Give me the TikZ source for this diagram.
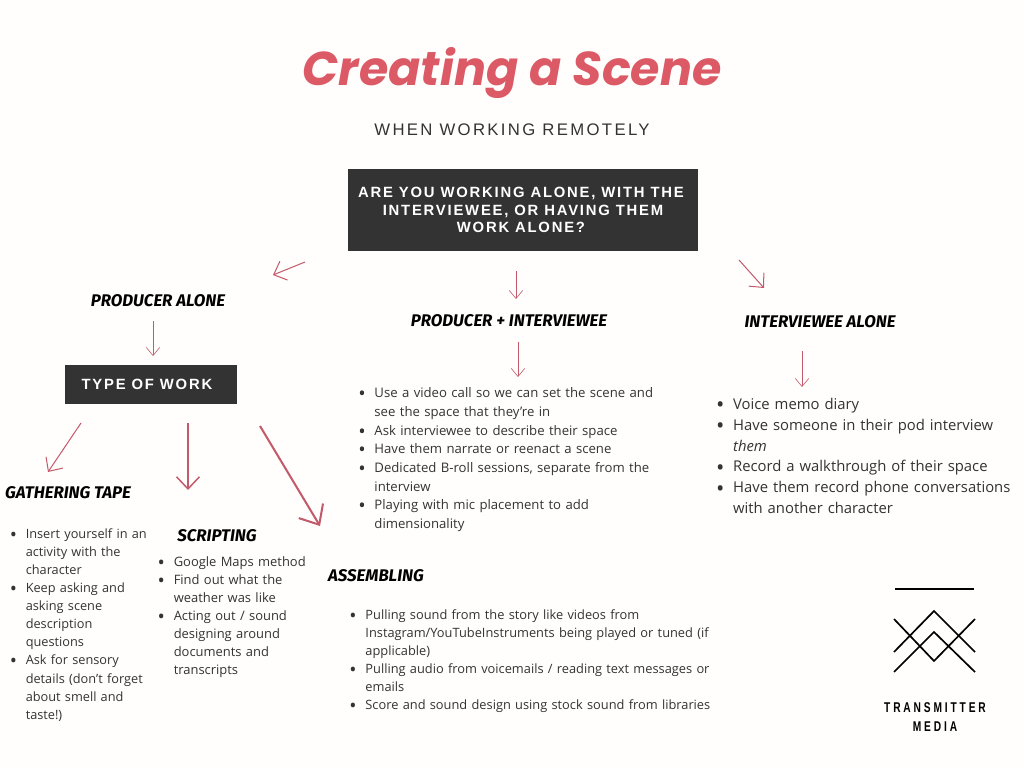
\documentclass[tikz,border=0pt]{standalone}
\usepackage{fontspec}
\setmainfont{Open Sans}
\newfontfamily\titlefont{Poppins}
\newfontfamily\headfont{Fira Sans}
\newfontfamily\boxfont[LetterSpace=12]{Liberation Sans}
\newfontfamily\subfont[LetterSpace=14]{Liberation Sans}
\newfontfamily\logofont[LetterSpace=28]{Liberation Sans}
\usetikzlibrary{arrows.meta}
\usetikzlibrary{positioning}
\definecolor{pagecolor}{HTML}{FFFEFC}
\definecolor{titlered}{HTML}{DC5A66}
\definecolor{arrowred}{HTML}{C25A6C}
\definecolor{boxgray}{HTML}{333333}
\newenvironment{scenelist}[1]{\begin{list}{\raisebox{-0.42ex}{\scalebox{1.5}{\textbullet}}}{\setlength{\leftmargin}{#1}\setlength{\labelwidth}{8pt}\setlength{\labelsep}{6.5pt}\setlength{\itemsep}{0pt}\setlength{\parsep}{0pt}\setlength{\topsep}{0pt}\setlength{\partopsep}{0pt}\setlength{\parskip}{0pt}}\raggedright}{\end{list}}
\tikzset{
  headlabel/.style={font=\headfont\bfseries\itshape\fontsize{12.5}{14}\selectfont,text=black,inner sep=0pt},
  darkbox/.style={fill=boxgray,draw=none,text=white,inner sep=0pt,align=center,font=\boxfont\bfseries\fontsize{11}{13}\selectfont},
  scenetext/.style={anchor=north west,inner sep=0pt,text=boxgray,font=\fontsize{9.6}{13.4}\selectfont},
  thinarrow/.style={draw=arrowred,line width=0.45pt,-{Straight Barb[length=6pt,width=10pt,line width=0.45pt]}},
  midarrow/.style={draw=arrowred,line width=0.75pt,-{Straight Barb[length=8pt,width=15pt,line width=0.75pt]}},
  widearrow/.style={draw=arrowred,line width=1.1pt,-{Straight Barb[length=9pt,width=17pt,line width=1.1pt]}},
  bigarrow/.style={draw=arrowred,line width=1.5pt,-{Straight Barb[length=12pt,width=21pt,line width=1.5pt]}},
  logoline/.style={draw=black,line width=1.25pt},
  logotext/.style={font=\logofont\bfseries\fontsize{10.5}{14}\selectfont,xscale=0.72,inner sep=0pt,text=black},
}
\begin{document}
\begin{tikzpicture}[x=0.026042cm,y=-0.026042cm]
\fill[pagecolor] (0,0) rectangle (1024,768);
\useasboundingbox (0,0) rectangle (1024,768);

\node[font=\titlefont\bfseries\itshape\fontsize{35.2}{40}\selectfont,text=titlered,inner sep=0pt] (title) at (512, 73) {Creating a Scene};
\node[font=\subfont\fontsize{12.4}{14}\selectfont,text=boxgray,inner sep=0pt] (subtitle) at (512, 130) {WHEN WORKING REMOTELY};

\node[darkbox,minimum width=350*0.74pt,minimum height=82*0.74pt] (question) at (523, 210) {ARE YOU WORKING ALONE, WITH THE\hspace*{3pt}\\INTERVIEWEE, OR HAVING THEM\hspace*{3pt}\\WORK ALONE?\hspace*{3pt}};
\node[darkbox,minimum width=172*0.74pt,minimum height=39*0.74pt] (typework) at (151, 384.5) {TYPE OF WORK\hspace*{6pt}};

\node[headlabel] (alone) at (158, 301) {PRODUCER ALONE};
\node[headlabel] (both) at (509, 321) {PRODUCER + INTERVIEWEE};
\node[headlabel] (guest) at (820, 322) {INTERVIEWEE ALONE};
\node[headlabel] (tape) at (68, 493) {GATHERING TAPE};
\node[headlabel] (script) at (217, 536) {SCRIPTING};
\node[headlabel] (assemble) at (376, 576) {ASSEMBLING};

\coordinate (qa) at (305,262);
\coordinate (qb) at (273,275);
\coordinate (qc) at (516,271);
\coordinate (qd) at (516,299);
\coordinate (qe) at (739,260);
\coordinate (qf) at (764,288);
\coordinate (pa) at (153,321);
\coordinate (pb) at (153,356);
\coordinate (pc) at (518,342);
\coordinate (pd) at (518,377);
\coordinate (ga) at (802,351);
\coordinate (gb) at (802,387);
\coordinate (ta) at (81,423);
\coordinate (tb) at (48,472);
\coordinate (tc) at (188,423);
\coordinate (td) at (188,490);
\coordinate (te) at (260,426);
\coordinate (tf) at (320,526);
\draw[midarrow] (qa) -- (qb);
\draw[thinarrow] (qc) -- (qd);
\draw[midarrow] (qe) -- (qf);
\draw[thinarrow] (pa) -- (pb);
\draw[thinarrow] (pc) -- (pd);
\draw[thinarrow] (ga) -- (gb);
\draw[midarrow] (ta) -- (tb);
\draw[widearrow] (tc) -- (td);
\draw[bigarrow] (te) -- (tf);

\node[scenetext,text width=160*0.74pt,font=\fontsize{9.45}{13.4}\selectfont] (tapelist) at (12, 520) {\begin{scenelist}{10pt}
\item Insert yourself in an\\activity with the\\character
\item Keep asking and\\asking scene\\description\\questions
\item Ask for sensory\\details (don't forget\\about smell and\\taste!)
\end{scenelist}};
\node[scenetext,text width=170*0.74pt] (scriptlist) at (160, 548) {\begin{scenelist}{10pt}
\item Google Maps method
\item Find out what the\\weather was like
\item Acting out / sound\\designing around\\documents and\\transcripts
\end{scenelist}};
\node[scenetext,text width=400*0.74pt,font=\fontsize{9.5}{13.4}\selectfont] (assemblelist) at (351, 601) {\begin{scenelist}{10.5pt}
\item Pulling sound from the story like videos from\\Instagram/YouTubeInstruments being played or tuned (if\\applicable)
\item Pulling audio from voicemails / reading text messages or\\emails
\item Score and sound design using stock sound from libraries
\end{scenelist}};
\node[scenetext,text width=320*0.74pt,font=\fontsize{9.75}{13.8}\selectfont] (bothlist) at (360, 379) {\begin{scenelist}{10.5pt}
\item Use a video call so we can set the scene and\\see the space that they're in
\item Ask interviewee to describe their space
\item Have them narrate or reenact a scene
\item Dedicated B-roll sessions, separate from the\\interview
\item Playing with mic placement to add\\dimensionality
\end{scenelist}};
\node[scenetext,text width=310*0.74pt,font=\fontsize{11}{15.5}\selectfont] (guestlist) at (716, 388) {\begin{scenelist}{12.5pt}
\item Voice memo diary
\item Have someone in their pod interview\\\textit{them}
\item Record a walkthrough of their space
\item Have them record phone conversations\\with another character
\end{scenelist}};

\draw[draw=black,line width=2pt] (895,589) -- (974,589);
\draw[logoline] (894,652) -- (934,611) -- (975,652);
\draw[logoline] (894,672) -- (934,632) -- (975,672);
\draw[logoline] (894,619) -- (934,661) -- (975,619);
\node[logotext] (logotop) at (935, 708) {TRANSMITTER};
\node[logotext] (logobottom) at (935, 727) {MEDIA};
\end{tikzpicture}
\end{document}
